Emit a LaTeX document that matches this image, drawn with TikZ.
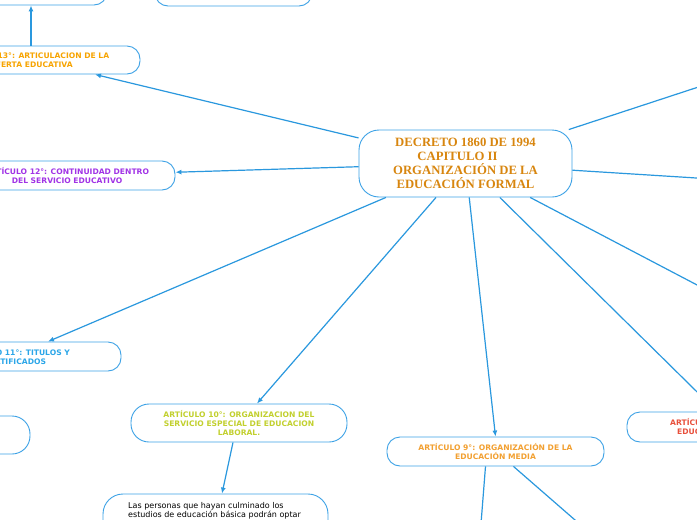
\documentclass[tikz,border=0pt]{standalone}
\usepackage{fontspec}
\setmainfont{Liberation Serif}
\newfontfamily\vsans{DejaVu Sans}
\usetikzlibrary{arrows.meta}
\definecolor{lineblue}{HTML}{2A98DE}
\definecolor{boxblue}{HTML}{3DA2E6}
\definecolor{ctext}{HTML}{D8860F}
\definecolor{orangeA}{HTML}{F7A400}
\definecolor{purpleA}{HTML}{A133E6}
\definecolor{blueA}{HTML}{2BA6E8}
\definecolor{greenA}{HTML}{C2D02E}
\definecolor{orangeB}{HTML}{F2A031}
\definecolor{redA}{HTML}{E8503C}
\tikzset{
  box/.style={draw=boxblue, line width=0.9pt, rounded corners=13pt, fill=white,
    align=center, inner sep=2pt, font=\vsans\bfseries\fontsize{7.6}{9}\selectfont},
  conn/.style={draw=lineblue, line width=1.2pt},
  arr/.style={conn, -{Latex[length=6pt,width=5pt]}},
}
\begin{document}
\begin{tikzpicture}[x=1pt,y=-1pt]
\useasboundingbox (0,0) rectangle (697,520);
\fill[white] (0,0) rectangle (697,520);
\clip (0,0) rectangle (697,520);
% nodes
\node[box, rounded corners=20pt, minimum width=213pt, minimum height=67pt,
  text=ctext, font=\bfseries\fontsize{12.7}{14}\selectfont] (c) at (465.5,163.5)
  {DECRETO 1860 DE 1994\\CAPITULO II\hspace*{16pt}\null\\ORGANIZACIÓN DE LA\\EDUCACIÓN FORMAL};
\node[box, minimum width=167pt, minimum height=30pt] (top1) at (23.5,-10) {};
\node[box, minimum width=157pt, minimum height=31pt] (top2) at (233.5,-9.5) {};
\node[box, minimum width=218pt, minimum height=28pt, text=orangeA] (n13) at (31,60)
  {ARTÍCULO 13°: ARTICULACION DE LA\\OFERTA EDUCATIVA};
\node[box, minimum width=216pt, minimum height=29pt, text=purpleA] (n12) at (67,175.5)
  {ARTÍCULO 12°: CONTINUIDAD DENTRO\\DEL SERVICIO EDUCATIVO};
\node[box, minimum width=212pt, minimum height=29pt, text=blueA] (n11) at (15,356.5)
  {ARTÍCULO 11°: TITULOS Y\\CERTIFICADOS};
\node[box, rounded corners=18pt, minimum width=200pt, minimum height=38pt] (nL) at (-70,435) {};
\node[box, rounded corners=18pt, minimum width=216pt, minimum height=38pt, text=greenA] (n10) at (239,423)
  {ARTÍCULO 10°: ORGANIZACION DEL\\SERVICIO ESPECIAL DE EDUCACION\\LABORAL.};
\node[box, rounded corners=20pt, minimum width=225pt, minimum height=70pt] (tb) at (215.5,529) {};
\node[anchor=base west, align=left, inner sep=0pt, font=\vsans\fontsize{8}{9}\selectfont] (tbt) at (128,517.5)
  {Las personas que hayan culminado los\\estudios de educación básica podrán optar};
\node[box, minimum width=217pt, minimum height=29pt, text=orangeB] (n9) at (495.5,451.5)
  {ARTÍCULO 9°: ORGANIZACIÓN DE LA\\EDUCACIÓN MEDIA};
\node[box, minimum width=218pt, minimum height=30pt] (n8) at (736,427) {};
\node[anchor=west, align=left, inner sep=0pt, text=redA, font=\vsans\bfseries\fontsize{7.6}{9}\selectfont] (n8t) at (670,427)
  {ARTÍCULO\\\hspace*{7pt}EDUCACIÓN};
% free ends
\coordinate (r1) at (760,66.8);
\coordinate (r2) at (760,182);
\coordinate (r3) at (760,318);
\coordinate (r4) at (760,454);
\coordinate (d1) at (480.5,530);
\coordinate (d2) at (586.5,530);
% connectors
\draw[arr] (c) -- ([xshift=64pt]n13.south);
\draw[arr] (c) -- (n12);
\draw[arr] (c) -- ([xshift=33pt]n11.north);
\draw[arr] (c) -- ([xshift=18pt]n10.north);
\draw[arr] (c) -- (n9.north);
\draw[conn] (c) -- (r1);
\draw[conn] (c) -- (r2);
\draw[conn] (c) -- (r3);
\draw[conn] (c) -- (r4);
\draw[arr] (n13.north) -- (n13.north |- top1.south);
\draw[arr] ([xshift=-6pt]n10.south) -- ([xshift=6.5pt]tb.north);
\draw[conn] ([xshift=-10pt]n9.south) -- (d1);
\draw[conn] ([xshift=18pt]n9.south) -- (d2);
\end{tikzpicture}
\end{document}
